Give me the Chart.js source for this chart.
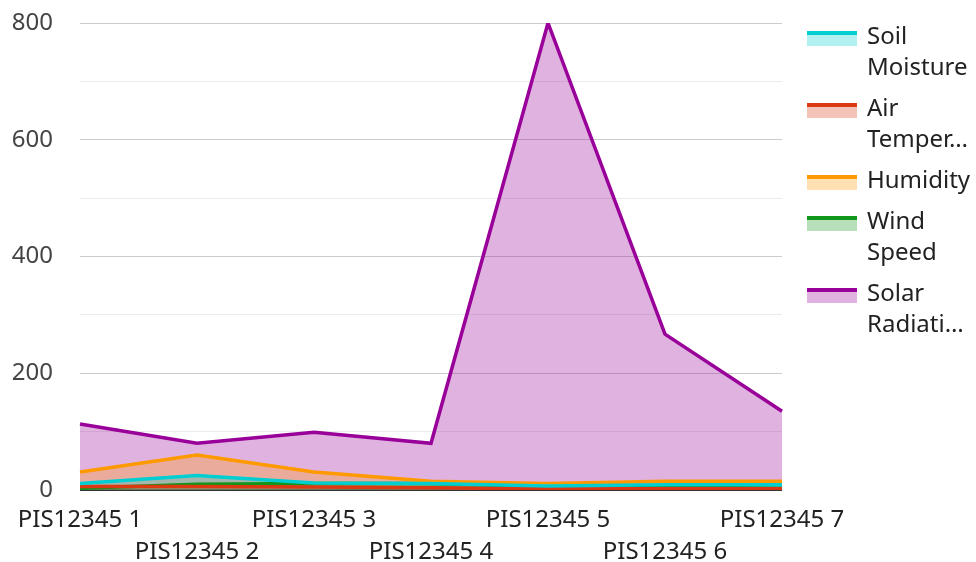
<!DOCTYPE html>
<html><head><meta charset="utf-8">
<script src="https://cdn.jsdelivr.net/npm/chart.js@4/dist/chart.umd.min.js"></script>
<style>
html,body{margin:0;padding:0;background:#fff;}
#wrap{position:relative;width:976px;height:562px;overflow:hidden;}
#c{position:absolute;left:0;top:0;}
#legend{position:absolute;left:807px;top:19px;font-family:"Noto Sans",sans-serif;font-size:24px;color:#222;}
.item{display:flex;align-items:flex-start;margin-bottom:10px;}
.sw{width:50px;height:11px;margin-top:12px;border-top:4px solid;flex:none;}
.tx{margin-left:10px;line-height:31px;white-space:nowrap;}
</style></head>
<body><div id="wrap"><canvas id="c" width="976" height="562" style="width:976px;height:562px"></canvas><div id="legend"></div></div>
<script>
const categories = ['PIS12345 1','PIS12345 2','PIS12345 3','PIS12345 4','PIS12345 5','PIS12345 6','PIS12345 7'];
const seriesNames = ['Soil Moisture','Air Temperature','Humidity','Wind Speed','Solar Radiation'];
const soilMoisture = [11,25,12,11,7,9,9];
const airTemperature = [6,6,5,4,2,2,2];
const humidity = [31,60,31,15,11,15,15];
const windSpeed = [3,10,11,11,5,5,3];
const solarRadiation = [113,80,99,80,800,267,135];
const yMin = 0, yMax = 800, yStep = 100, yLabelStep = 200;

const lineColors = ['#00CED1','#DC3912','#FF9900','#109618','#990099'];
const seriesValues = [soilMoisture, airTemperature, humidity, windSpeed, solarRadiation];

function alpha(hex, a){
  const n = parseInt(hex.slice(1),16);
  return `rgba(${(n>>16)&255},${(n>>8)&255},${n&255},${a})`;
}

const FONT = '"Noto Sans", sans-serif';

const datasets = seriesNames.map((name,i)=>({
  label: name,
  data: seriesValues[i],
  borderColor: lineColors[i],
  backgroundColor: alpha(lineColors[i],0.3),
  borderWidth: 3.5,
  pointRadius: 0,
  pointHoverRadius: 0,
  tension: 0,
  fill: 'origin'
}));

new Chart(document.getElementById('c'), {
  type: 'line',
  data: { labels: categories, datasets },
  options: {
    responsive: false,
    animation: false,
    layout: { padding: { top: 23, right: 194, left: 0, bottom: 0 } },
    plugins: {
      legend: { display: false },
      tooltip: { enabled: false },
      filler: { drawTime: 'beforeDatasetsDraw' }
    },
    scales: {
      x: {
        grid: { display: false },
        border: { display: false },
        ticks: {
          autoSkip: false, maxRotation: 0, minRotation: 0, padding: 6,
          color: '#222',
          font: { family: FONT, size: 24, lineHeight: 1.33 },
          callback: (v, i) => i % 2 ? ['', categories[i]] : categories[i]
        },
        afterFit: s => { s.paddingLeft = 0; s.paddingRight = 0; s.height = 72; }
      },
      y: {
        min: yMin, max: yMax,
        border: { display: false },
        grid: {
          drawTicks: false,
          color: c => c.tick.value === 0 ? '#333333' : (c.tick.value % yLabelStep === 0 ? '#cccccc' : '#ebebeb'),
          lineWidth: c => c.tick.value === 0 ? 2 : 1
        },
        ticks: {
          stepSize: yStep, padding: 27, color: '#444',
          font: { family: FONT, size: 24 },
          callback: v => v % yLabelStep === 0 ? String(v) : ''
        },
        afterFit: s => { s.width = 80; s.paddingTop = 0; s.paddingBottom = 0; }
      }
    }
  }
});

// Legend (wrapped to two lines, ellipsized)
const mctx = document.createElement('canvas').getContext('2d');
mctx.font = '24px ' + FONT;
const maxW = 104;
function fitWord(w){
  if (mctx.measureText(w).width <= maxW) return w;
  let s = w;
  while (s.length && mctx.measureText(s + '…').width > maxW) s = s.slice(0,-1);
  return s + '…';
}
function wrap(text){
  const words = text.split(' ');
  const lines = [];
  let cur = '';
  let idx = 0;
  while (idx < words.length) {
    const w = words[idx];
    const t = cur ? cur + ' ' + w : w;
    if (mctx.measureText(t).width <= maxW) { cur = t; idx++; continue; }
    if (cur) { lines.push(cur); cur = ''; if (lines.length === 2) break; continue; }
    lines.push(fitWord(w)); idx++;
    if (lines.length === 2) break;
  }
  if (cur && lines.length < 2) lines.push(cur);
  if (idx < words.length && lines.length === 2) {
    let l = lines[1];
    if (!l.endsWith('…')) {
      while (l.length && mctx.measureText(l + '…').width > maxW) l = l.slice(0,-1);
      lines[1] = l + '…';
    }
  }
  return lines;
}
const leg = document.getElementById('legend');
seriesNames.forEach((name,i)=>{
  const it = document.createElement('div'); it.className='item';
  const sw = document.createElement('div'); sw.className='sw';
  sw.style.borderTopColor = lineColors[i];
  sw.style.background = alpha(lineColors[i],0.3);
  const tx = document.createElement('div'); tx.className='tx';
  wrap(name).forEach((ln,k)=>{ if(k) tx.appendChild(document.createElement('br')); tx.appendChild(document.createTextNode(ln)); });
  it.appendChild(sw); it.appendChild(tx); leg.appendChild(it);
});
</script>
</body></html>
